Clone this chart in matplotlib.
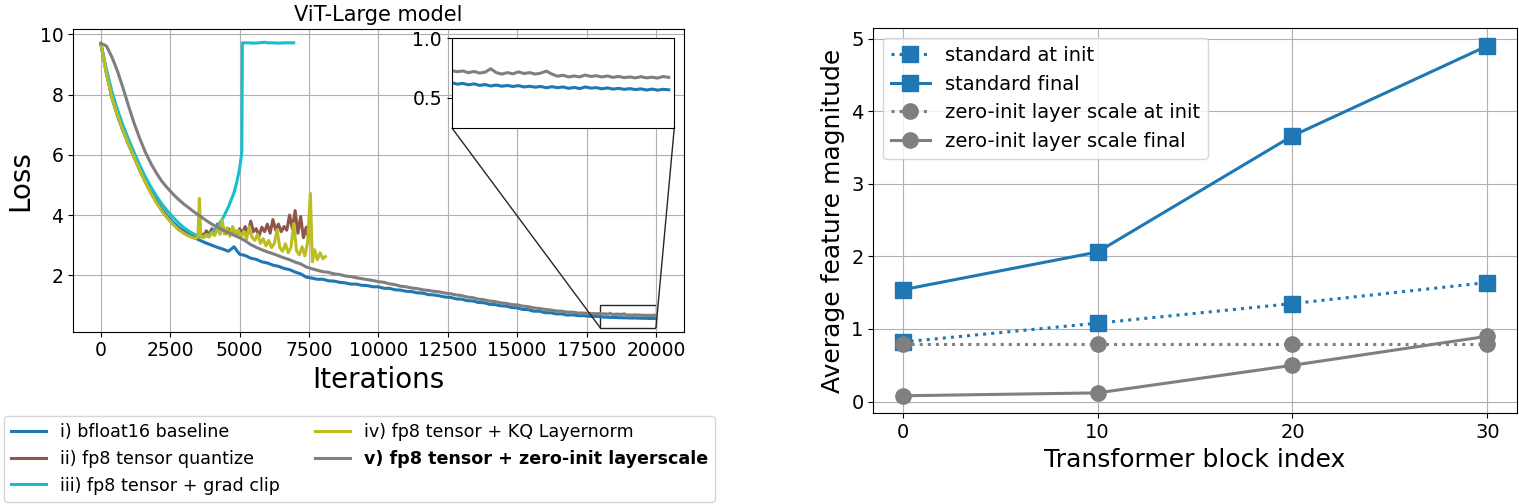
import matplotlib
matplotlib.use("Agg")
import matplotlib.pyplot as plt
from mpl_toolkits.axes_grid1.inset_locator import mark_inset

# ---- left panel: ViT-Large loss curves ----
blue_iters = list(range(0, 18000, 200)) + list(range(18000, 20000, 50))
blue_loss = [
    9.70, 8.75, 7.90, 7.30, 6.80, 6.35, 5.92, 5.50, 5.12, 4.78,
    4.48, 4.20, 3.96, 3.76, 3.59, 3.46, 3.35, 3.24, 3.15, 3.07,
    3.00, 2.93, 2.87, 2.80, 2.95, 2.70, 2.66, 2.57, 2.53, 2.45,
    2.41, 2.34, 2.30, 2.23, 2.19, 2.11, 2.05, 1.94, 1.91, 1.87,
    1.87, 1.82, 1.81, 1.77, 1.75, 1.71, 1.71, 1.67, 1.66, 1.62,
    1.62, 1.57, 1.57, 1.52, 1.51, 1.47, 1.46, 1.42, 1.41, 1.36,
    1.35, 1.32, 1.28, 1.27, 1.22, 1.21, 1.16, 1.15, 1.10, 1.09,
    1.04, 1.03, 0.99, 0.98, 0.93, 0.92, 0.87, 0.86, 0.81, 0.81,
    0.76, 0.76, 0.72, 0.72, 0.68, 0.69, 0.66, 0.66, 0.64, 0.64,
    # 18000 .. 19950 (inset region)
    0.628, 0.615, 0.622, 0.610, 0.618, 0.605, 0.612, 0.600, 0.608, 0.598,
    0.604, 0.596, 0.603, 0.592, 0.598, 0.590, 0.596, 0.585, 0.594, 0.586,
    0.592, 0.580, 0.588, 0.578, 0.592, 0.582, 0.586, 0.576, 0.584, 0.574,
    0.580, 0.572, 0.578, 0.570, 0.576, 0.566, 0.574, 0.565, 0.572, 0.568,
]

gray_iters = list(range(0, 18000, 200)) + list(range(18000, 20000, 50))
gray_loss = [
    9.70, 9.62, 9.25, 8.78, 8.22, 7.62, 7.05, 6.55, 6.10, 5.72,
    5.40, 5.12, 4.90, 4.70, 4.52, 4.36, 4.22, 4.08, 3.95, 3.82,
    3.70, 3.60, 3.50, 3.42, 3.33, 3.25, 3.15, 3.02, 2.93, 2.85,
    2.78, 2.72, 2.65, 2.58, 2.52, 2.44, 2.38, 2.28, 2.22, 2.17,
    2.12, 2.10, 2.05, 2.03, 1.98, 1.96, 1.92, 1.89, 1.86, 1.83,
    1.79, 1.77, 1.72, 1.69, 1.64, 1.62, 1.58, 1.56, 1.52, 1.50,
    1.47, 1.45, 1.41, 1.39, 1.35, 1.33, 1.28, 1.26, 1.21, 1.19,
    1.15, 1.13, 1.09, 1.07, 1.03, 1.02, 0.98, 0.96, 0.92, 0.90,
    0.87, 0.85, 0.82, 0.81, 0.78, 0.78, 0.75, 0.75, 0.73, 0.73,
    # 18000 .. 19950 (inset region)
    0.728, 0.720, 0.726, 0.712, 0.722, 0.708, 0.716, 0.745, 0.712, 0.700,
    0.712, 0.702, 0.718, 0.705, 0.712, 0.700, 0.708, 0.725, 0.700, 0.682,
    0.690, 0.676, 0.684, 0.676, 0.692, 0.680, 0.686, 0.676, 0.684, 0.672,
    0.680, 0.670, 0.676, 0.668, 0.678, 0.668, 0.674, 0.666, 0.680, 0.672,
]

brown_iters = list(range(0, 3400, 200)) + list(range(3400, 7500, 100)) + [7450]
brown_loss = [
    9.70, 8.72, 7.92, 7.33, 6.82, 6.36, 5.93, 5.51, 5.11, 4.75,
    4.43, 4.15, 3.91, 3.71, 3.53, 3.40, 3.30,
    3.25, 3.35, 3.40, 3.30, 3.48, 3.35, 3.55, 3.40, 3.70, 3.45,
    3.60, 3.38, 3.55, 3.40, 3.50, 3.35, 3.55, 3.40, 3.62, 3.38,
    3.80, 3.45, 3.55, 3.30, 3.60, 3.45, 3.70, 3.40, 3.85, 3.50,
    3.70, 3.45, 3.62, 3.50, 4.00, 3.55, 4.15, 3.40, 3.95, 3.25,
    3.60, 3.35,
]

cyan_iters = list(range(0, 3600, 200)) + [
    3600, 3800, 4000, 4200, 4400, 4600, 4800, 4900, 5000, 5060, 5080,
    5100, 5300, 5500, 5700, 5900, 6000, 6200, 6400, 6600, 6800, 6950]
cyan_loss = [
    9.70, 8.85, 8.10, 7.50, 6.98, 6.52, 6.08, 5.66, 5.28, 4.94,
    4.64, 4.37, 4.14, 3.93, 3.74, 3.58, 3.45, 3.35,
    3.28, 3.30, 3.42, 3.62, 3.90, 4.28, 4.75, 5.10, 5.55, 5.95, 6.10,
    9.72, 9.72, 9.71, 9.72, 9.74, 9.72, 9.72, 9.71, 9.72, 9.72, 9.72,
]

olive_iters = list(range(0, 3400, 200)) + [
    3400, 3500, 3550, 3600, 3700, 3800, 3900, 4000, 4100, 4200, 4300, 4370,
    4450, 4550, 4650, 4750, 4850, 4950, 5050, 5150, 5250, 5350, 5450, 5550,
    5650, 5750, 5850, 5950, 6050, 6150, 6250, 6350, 6450, 6550, 6650, 6750,
    6850, 6950, 7050, 7150, 7250, 7350, 7450, 7550, 7620, 7700, 7800, 7900,
    8000, 8090]
olive_loss = [
    9.70, 8.70, 7.90, 7.32, 6.80, 6.35, 5.92, 5.50, 5.10, 4.74,
    4.42, 4.14, 3.90, 3.70, 3.52, 3.39, 3.29,
    3.22, 3.28, 4.55, 3.30, 3.25, 3.36, 3.27, 3.42, 3.32, 3.55, 3.36, 3.84,
    3.38, 3.58, 3.30, 3.62, 3.34, 3.50, 3.28, 3.46, 3.20, 3.62, 3.26, 3.16,
    3.36, 3.06, 3.22, 2.98, 3.16, 2.92, 3.05, 3.52, 2.92, 2.80, 3.05, 2.75,
    2.92, 3.72, 2.82, 2.68, 2.95, 2.65, 3.10, 4.72, 2.45, 2.85, 2.52, 2.75,
    2.55, 2.62,
]

run_labels = [
    "i) bfloat16 baseline",
    "ii) fp8 tensor quantize",
    "iii) fp8 tensor + grad clip",
    "iv) fp8 tensor + KQ Layernorm",
    "v) fp8 tensor + zero-init layerscale",
]

# ---- right panel: feature magnitudes ----
block_idx = [0, 10, 20, 30]
standard_init = [0.82, 1.08, 1.35, 1.64]
standard_final = [1.54, 2.06, 3.66, 4.90]
zero_init_init = [0.80, 0.80, 0.80, 0.80]
zero_init_final = [0.08, 0.12, 0.50, 0.90]

BLUE, BROWN, CYAN, OLIVE, GRAY = "tab:blue", "tab:brown", "tab:cyan", "tab:olive", "tab:gray"

fig = plt.figure(figsize=(15.19, 5.04), dpi=100)
ax = fig.add_axes([0.0481, 0.3419, 0.4020, 0.6000])
ax2 = fig.add_axes([0.5749, 0.1800, 0.4236, 0.7638])
axins = fig.add_axes([0.2974, 0.7466, 0.1465, 0.1774])

runs = [
    (blue_iters, blue_loss, BLUE),
    (brown_iters, brown_loss, BROWN),
    (cyan_iters, cyan_loss, CYAN),
    (olive_iters, olive_loss, OLIVE),
    (gray_iters, gray_loss, GRAY),
]
lw = 2.2
handles = []
for (it, loss, c), lab in zip(runs, run_labels):
    h, = ax.plot(it, loss, color=c, lw=lw, label=lab)
    handles.append(h)

ax.set_xlim(-1000, 21000)
ax.set_ylim(0.13, 10.17)
ax.set_xticks(range(0, 20001, 2500))
ax.set_yticks([2, 4, 6, 8, 10])
ax.tick_params(labelsize=13.5)
ax.grid(True)
ax.set_xlabel("Iterations", fontsize=20)
ax.set_ylabel("Loss", fontsize=20)
ax.set_title("ViT-Large model", fontsize=15)

# zoomed inset on the last 2000 iterations
axins.plot(blue_iters, blue_loss, color=BLUE, lw=lw)
axins.plot(gray_iters, gray_loss, color=GRAY, lw=lw)
axins.set_xlim(18000, 20000)
axins.set_ylim(0.25, 1.0)
axins.set_xticks([])
axins.set_yticks([0.5, 1.0])
axins.tick_params(labelsize=13.5)
mark_inset(ax, axins, loc1=3, loc2=4, fc="none", ec="0.15", lw=1)

leg = fig.legend(handles=handles, loc="upper left", bbox_to_anchor=(0.0026, 0.1746),
                 ncol=2, fontsize=12.6, borderaxespad=0)
leg.get_texts()[-1].set_fontweight("bold")

# right panel
ms = 11
ax2.plot(block_idx, standard_init, ls=":", marker="s", ms=ms, lw=2.2, color=BLUE,
         label="standard at init")
ax2.plot(block_idx, standard_final, ls="-", marker="s", ms=ms, lw=2.2, color=BLUE,
         label="standard final")
ax2.plot(block_idx, zero_init_init, ls=":", marker="o", ms=ms, lw=2.2, color=GRAY,
         label="zero-init layer scale at init")
ax2.plot(block_idx, zero_init_final, ls="-", marker="o", ms=ms, lw=2.2, color=GRAY,
         label="zero-init layer scale final")
ax2.set_xticks(block_idx)
ax2.set_yticks([0, 1, 2, 3, 4, 5])
ax2.tick_params(labelsize=14)
ax2.grid(True)
ax2.set_xlabel("Transformer block index", fontsize=18)
ax2.set_ylabel("Average feature magnitude", fontsize=18)
ax2.legend(loc="upper left", fontsize=14)

fig.savefig("out.png", dpi=100)
